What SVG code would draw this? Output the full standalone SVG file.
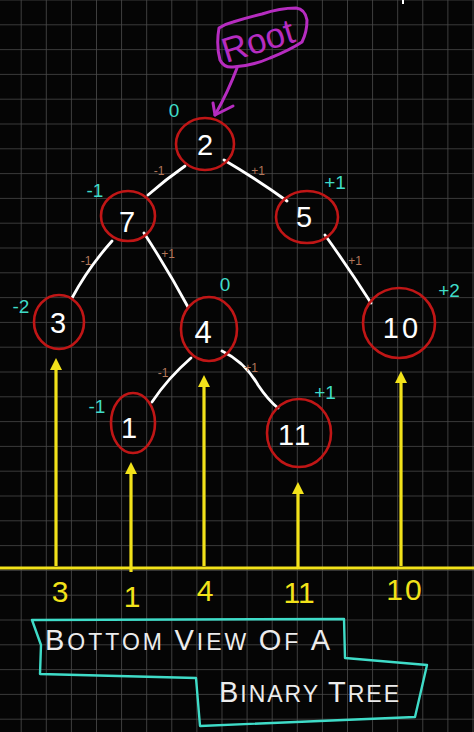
<svg xmlns="http://www.w3.org/2000/svg" width="474" height="732" viewBox="0 0 474 732">
<style>
.node{fill:none;stroke:#c01616;stroke-width:2.6}
.nl{fill:#ffffff;font-family:"Liberation Sans",sans-serif;font-size:29px;text-anchor:middle}
.edge{fill:none;stroke:#ffffff;stroke-width:2.8;stroke-linecap:round}
.el{fill:#b4775a;font-family:"Liberation Sans",sans-serif;font-size:12px;text-anchor:middle}
.hd{fill:#3fdcc8;font-family:"Liberation Sans",sans-serif;font-size:19px;text-anchor:middle}
.yl{stroke:#f2e21a;stroke-width:3.2;fill:none}
.yt{fill:#f2e21a;font-family:"Liberation Sans",sans-serif;font-size:30px;text-anchor:middle}
.mag{fill:none;stroke:#b62cc0;stroke-width:3;stroke-linecap:round;stroke-linejoin:round}
.title{fill:#ececec;font-family:"Liberation Sans",sans-serif}
</style>
<defs>
<pattern id="grid" patternUnits="userSpaceOnUse" x="20.7" y="24.3" width="25.1" height="24.8">
<path d="M0 0V24.8M0 0H25.1" stroke="#4a4a4a" stroke-width="1.6" fill="none"/>
</pattern>
<marker id="ya" markerUnits="userSpaceOnUse" markerWidth="13" markerHeight="13" refX="8" refY="0" orient="auto" viewBox="0 -6.5 13 13" overflow="visible">
<path d="M0 -6L12 0L0 6Z" fill="#f2e21a"/>
</marker>
</defs>
<rect width="474" height="732" fill="#050505"/>
<rect width="474" height="732" fill="url(#grid)"/>
<path d="M403 0V4" stroke="#ffffff" stroke-width="2"/>

<g id="connectors">
<path class="edge" d="M185 166 Q165 180 148 195"/>
<path class="edge" d="M224 160 Q258 180 287 201"/>
<path class="edge" d="M112 241 Q88 268 72 298"/>
<path class="edge" d="M144 233 Q168 270 188 307"/>
<path class="edge" d="M325 235 Q350 270 371 303"/>
<path class="edge" d="M191 358 Q168 378 152 402"/>
<path class="edge" d="M222 351 Q245 362 258 385 Q268 400 278 408"/>
<text class="el" x="159" y="175">-1</text>
<text class="el" x="258" y="175">+1</text>
<text class="el" x="86" y="265">-1</text>
<text class="el" x="168" y="258">+1</text>
<text class="el" x="355" y="265">+1</text>
<text class="el" x="163" y="377">-1</text>
<text class="el" x="251" y="372">+1</text>
</g>

<g id="node-2">
<ellipse class="node" cx="205" cy="144" rx="29" ry="26"/>
<text class="nl" x="205" y="155">2</text>
<text class="hd" x="174" y="117">0</text>
</g>
<g id="node-7">
<ellipse class="node" cx="128" cy="216" rx="27" ry="25"/>
<text class="nl" x="127" y="232">7</text>
<text class="hd" x="95" y="197">-1</text>
</g>
<g id="node-5">
<ellipse class="node" cx="307" cy="217" rx="31" ry="26"/>
<text class="nl" x="304" y="227">5</text>
<text class="hd" x="335" y="189">+1</text>
</g>
<g id="node-3">
<ellipse class="node" cx="59" cy="322" rx="25" ry="27"/>
<text class="nl" x="58" y="333">3</text>
<text class="hd" x="21" y="313">-2</text>
</g>
<g id="node-4">
<ellipse class="node" cx="209" cy="329" rx="28" ry="32"/>
<text class="nl" x="203" y="343" style="font-size:31px">4</text>
<text class="hd" x="225" y="291">0</text>
</g>
<g id="node-10">
<ellipse class="node" cx="399" cy="323" rx="36" ry="35"/>
<text class="nl" x="402" y="338" letter-spacing="3">10</text>
<text class="hd" x="449" y="297">+2</text>
</g>
<g id="node-1">
<ellipse class="node" cx="133" cy="423" rx="22" ry="30"/>
<text class="nl" x="129" y="438">1</text>
<text class="hd" x="97" y="413">-1</text>
</g>
<g id="node-11">
<ellipse class="node" cx="299" cy="433" rx="32" ry="34"/>
<text class="nl" x="295" y="445" letter-spacing="2">11</text>
<text class="hd" x="325" y="399">+1</text>
</g>

<g id="root-label">
<path class="mag" d="M233 22 Q225 24 219 28 Q216 45 220 60 Q224 68 233 67 Q252 66 270 58 Q290 50 302 42 Q307 32 307 20 Q305 9 296 8 Q280 8 262 14 Q245 18 233 22Z"/>
<text x="0" y="0" transform="translate(226 63) rotate(-17)" fill="#b62cc0" font-family="Liberation Sans, sans-serif" font-size="35">Root</text>
<path class="mag" d="M237 68 Q228 92 215 115"/>
<path class="mag" d="M213 103 L215 115 L233 106"/>
</g>

<g id="bottom-view">
<path class="yl" d="M0 568H474"/>
<path class="yl" d="M56 566V362" marker-end="url(#ya)"/>
<path class="yl" d="M131 572V466" marker-end="url(#ya)"/>
<path class="yl" d="M204 566V379" marker-end="url(#ya)"/>
<path class="yl" d="M298 568V486" marker-end="url(#ya)"/>
<path class="yl" d="M401 566V375" marker-end="url(#ya)"/>
<text class="yt" x="60" y="602">3</text>
<text class="yt" x="132" y="607">1</text>
<text class="yt" x="205" y="601">4</text>
<text class="yt" x="299" y="603">11</text>
<text class="yt" x="405" y="600" letter-spacing="2">10</text>
</g>

<g id="title">
<path d="M32 620 L344 619 L345 658 L427 665 L415 717 L200 726 L196 678 L40 674 L41 645 Z" fill="none" stroke="#3fdcc8" stroke-width="2.4" stroke-linejoin="round"/>
<text class="title" x="45" y="650" font-size="23" textLength="285" lengthAdjust="spacing"><tspan font-size="29">B</tspan>OTTOM <tspan font-size="29">V</tspan>IEW <tspan font-size="29">O</tspan>F <tspan font-size="29">A</tspan></text>
<text class="title" x="219" y="702" font-size="23" textLength="180" lengthAdjust="spacing"><tspan font-size="29">B</tspan>INARY <tspan font-size="29">T</tspan>REE</text>
</g>
</svg>
